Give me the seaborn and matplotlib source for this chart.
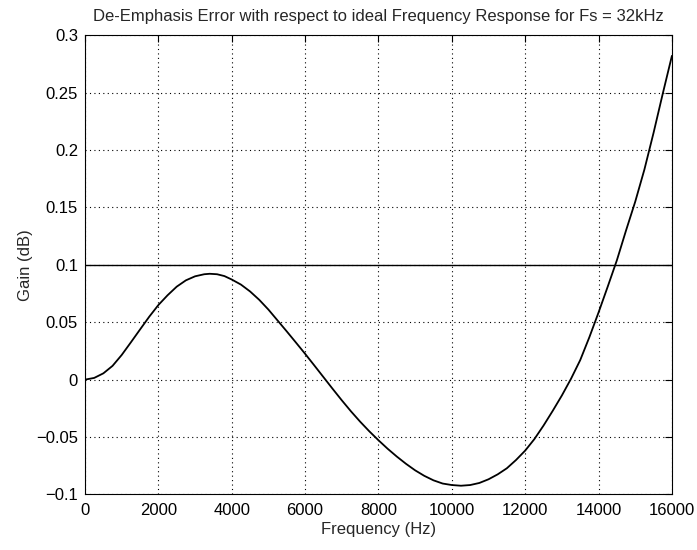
import matplotlib
matplotlib.use("Agg")
import matplotlib.pyplot as plt
import seaborn as sns
import pandas as pd

freq_hz = [0, 250, 500, 750, 1000, 1250, 1500, 1750, 2000, 2250, 2500, 2750,
           3000, 3250, 3400, 3600, 3800, 4000, 4250, 4500, 4750, 5000, 5250,
           5500, 5750, 6000, 6250, 6500, 6750, 7000, 7250, 7500, 7750, 8000,
           8250, 8500, 8750, 9000, 9250, 9500, 9750, 10000, 10250, 10500,
           10750, 11000, 11250, 11500, 11750, 12000, 12250, 12500, 12750,
           13000, 13250, 13500, 13750, 14000, 14250, 14500, 14750, 15000,
           15250, 15500, 15750, 16000]
gain_db = [0.0, 0.0015, 0.0055, 0.012, 0.0215, 0.0325, 0.0437, 0.0548, 0.065,
           0.0735, 0.081, 0.0865, 0.090, 0.0918, 0.0922, 0.0918, 0.0902,
           0.0872, 0.0828, 0.0768, 0.0695, 0.061, 0.0515, 0.042, 0.0323,
           0.0225, 0.0124, 0.0022, -0.008, -0.018, -0.0276, -0.0366, -0.045,
           -0.0528, -0.0602, -0.067, -0.0733, -0.079, -0.0838, -0.0877,
           -0.0905, -0.0918, -0.0924, -0.0918, -0.090, -0.0868, -0.0825,
           -0.0772, -0.070, -0.0618, -0.0518, -0.040, -0.0272, -0.0138,
           0.0008, 0.017, 0.037, 0.0585, 0.081, 0.104, 0.130, 0.155, 0.183,
           0.215, 0.249, 0.282]
threshold_db = 0.1

x_ticks = [0, 2000, 4000, 6000, 8000, 10000, 12000, 14000, 16000]
y_ticks = [-0.1, -0.05, 0, 0.05, 0.1, 0.15, 0.2, 0.25, 0.3]
y_labels = ["\u22120.1", "\u22120.05", "0", "0.05", "0.1", "0.15", "0.2",
            "0.25", "0.3"]

sns.set_theme(style="white")
plt.rcParams['font.family'] = ['Liberation Sans', 'DejaVu Sans']

df = pd.DataFrame({'freq': freq_hz, 'gain': gain_db})

fig = plt.figure(figsize=(6.97, 5.5), dpi=100)
ax = fig.add_axes([0.122, 0.101, 0.842, 0.835])

sns.lineplot(data=df, x='freq', y='gain', color='black', linewidth=1.3, ax=ax)
ax.axhline(threshold_db, color='black', linewidth=1.0)

ax.set_xlim(0, 16000)
ax.set_ylim(-0.1, 0.3)
ax.set_xticks(x_ticks)
ax.set_xticklabels([str(t) for t in x_ticks])
ax.set_yticks(y_ticks)
ax.set_yticklabels(y_labels)

# stile MATLAB: griglia puntinata, tacche interne su tutti i lati
ax.grid(True, color='black', linestyle=(0, (1, 3)), linewidth=0.8)
ax.tick_params(direction='in', length=5, width=0.8, top=True, right=True,
               labelsize=12, colors='black')
ax.tick_params(axis='x', pad=6)
ax.tick_params(axis='y', pad=5)
for s in ax.spines.values():
    s.set_color('black')
    s.set_linewidth(0.8)

ax.set_title('De-Emphasis Error with respect to ideal Frequency Response for Fs = 32kHz',
             fontsize=12, pad=10)
ax.set_xlabel('Frequency (Hz)', fontsize=12, labelpad=3)
ax.set_ylabel('Gain (dB)', fontsize=12, labelpad=2)

fig.savefig('out.png', dpi=100)
